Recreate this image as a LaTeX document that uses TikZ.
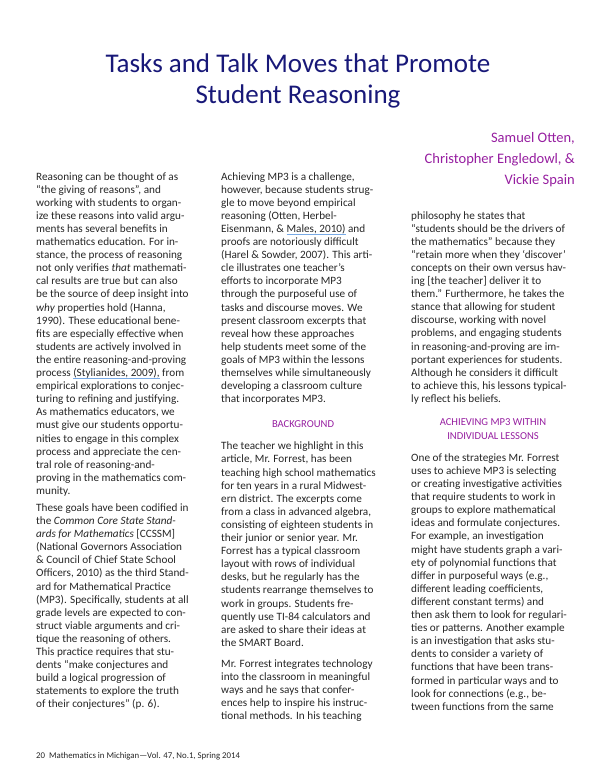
\documentclass[tikz,border=0pt]{standalone}
\usepackage{fontspec}
\setmainfont{Carlito}
\definecolor{titleblue}{RGB}{24,24,120}
\definecolor{headpurple}{RGB}{150,30,160}
\definecolor{linkblue}{RGB}{120,170,230}
\newlength\reflen
\newcommand\refu[1]{\settowidth\reflen{#1}\rlap{\textcolor{linkblue}{\rule[-2.4pt]{\reflen}{0.5pt}}}#1}
\tikzset{
  body/.style={anchor=base west,inner sep=0pt,font=\fontsize{11.2}{13}\selectfont,text=black!85},
  head/.style={anchor=base,inner sep=0pt,font=\fontsize{10.6}{12}\selectfont,text=headpurple},
  title/.style={anchor=base,inner sep=0pt,font=\fontsize{27}{30}\selectfont,text=titleblue},
  author/.style={anchor=base east,inner sep=0pt,font=\fontsize{14.5}{16}\selectfont,text=headpurple}
}
\def\lsk{13.1}
\begin{document}
\begin{tikzpicture}[x=1pt,y=-1pt]
\useasboundingbox (0,0) rectangle (600,776);
% title and authors
\node[title] (t1) at (298,72) {Tasks and Talk Moves that Promote};
\node[title] (t2) at (298,103) {Student Reasoning};
\node[author] (a1) at (575,142) {Samuel Otten,};
\node[author] (a2) at (575,163) {Christopher Engledowl, \&};
\node[author] (a3) at (575,184) {Vickie Spain};
% left column
\foreach \t [count=\i from 0] in {
 {Reasoning can be thought of as},{``the giving of reasons'', and},
 {working with students to organ-},{ize these reasons into valid argu-},
 {ments has several benefits in},{mathematics education. For in-},
 {stance, the process of reasoning},{not only verifies \textit{that} mathemati-},
 {cal results are true but can also},{be the source of deep insight into},
 {\textit{why} properties hold (Hanna,},{1990). These educational bene-},
 {fits are especially effective when},{students are actively involved in},
 {the entire reasoning-and-proving},{process \refu{(Stylianides, 2009),} from},
 {empirical explorations to conjec-},{turing to refining and justifying.},
 {As mathematics educators, we},{must give our students opportu-},
 {nities to engage in this complex},{process and appreciate the cen-},
 {tral role of reasoning-and-},{proving in the mathematics com-},{munity.}}
  \node[body] (l\i) at (36,{180+\i*\lsk}) {\t};
\foreach \t [count=\i from 0] in {
 {These goals have been codified in},{the \textit{Common Core State Stand-}},
 {\textit{ards for Mathematics} [CCSSM]},{(National Governors Association},
 {\& Council of Chief State School},{Officers, 2010) as the third Stand-},
 {ard for Mathematical Practice},{(MP3). Specifically, students at all},
 {grade levels are expected to con-},{struct viable arguments and cri-},
 {tique the reasoning of others.},{This practice requires that stu-},
 {dents ``make conjectures and},{build a logical progression of},
 {statements to explore the truth},{of their conjectures'' (p. 6).}}
  \node[body] (m\i) at (36,{180+25.3*\lsk+\i*\lsk}) {\t};
% middle column
\foreach \t [count=\i from 0] in {
 {Achieving MP3 is a challenge,},{however, because students strug-},
 {gle to move beyond empirical},{reasoning (Otten, Herbel-},
 {Eisenmann, \& \refu{Males, 2010)} and},{proofs are notoriously difficult},
 {(Harel \& Sowder, 2007). This arti-},{cle illustrates one teacher's},
 {efforts to incorporate MP3},{through the purposeful use of},
 {tasks and discourse moves. We},{present classroom excerpts that},
 {reveal how these approaches},{help students meet some of the},
 {goals of MP3 within the lessons},{themselves while simultaneously},
 {developing a classroom culture},{that incorporates MP3.}}
  \node[body] (c\i) at (221,{180+\i*\lsk}) {\t};
\node[head] (bg) at (303,{180+18.9*\lsk}) {BACKGROUND};
\foreach \t [count=\i from 0] in {
 {The teacher we highlight in this},{article, Mr. Forrest, has been},
 {teaching high school mathematics},{for ten years in a rural Midwest-},
 {ern district. The excerpts come},{from a class in advanced algebra,},
 {consisting of eighteen students in},{their junior or senior year. Mr.},
 {Forrest has a typical classroom},{layout with rows of individual},
 {desks, but he regularly has the},{students rearrange themselves to},
 {work in groups. Students fre-},{quently use TI-84 calculators and},
 {are asked to share their ideas at},{the SMART Board.}}
  \node[body] (d\i) at (221,{180+20.6*\lsk+\i*\lsk}) {\t};
\foreach \t [count=\i from 0] in {
 {Mr. Forrest integrates technology},{into the classroom in meaningful},
 {ways and he says that confer-},{ences help to inspire his instruc-},
 {tional methods. In his teaching}}
  \node[body] (e\i) at (221,{180+37.2*\lsk+\i*\lsk}) {\t};
% right column
\foreach \t [count=\i from 0] in {
 {philosophy he states that},{``students should be the drivers of},
 {the mathematics'' because they},{``retain more when they `discover'},
 {concepts on their own versus hav-},{ing [the teacher] deliver it to},
 {them.'' Furthermore, he takes the},{stance that allowing for student},
 {discourse, working with novel},{problems, and engaging students},
 {in reasoning-and-proving are im-},{portant experiences for students.},
 {Although he considers it difficult},{to achieve this, his lessons typical-},
 {ly reflect his beliefs.}}
  \node[body] (r\i) at (411,{219+\i*\lsk}) {\t};
\node[head] (h1) at (493,{219+15.8*\lsk}) {ACHIEVING MP3 WITHIN};
\node[head] (h2) at (493,{219+16.8*\lsk}) {INDIVIDUAL LESSONS};
\foreach \t [count=\i from 0] in {
 {One of the strategies Mr. Forrest},{uses to achieve MP3 is selecting},
 {or creating investigative activities},{that require students to work in},
 {groups to explore mathematical},{ideas and formulate conjectures.},
 {For example, an investigation},{might have students graph a vari-},
 {ety of polynomial functions that},{differ in purposeful ways (e.g.,},
 {different leading coefficients,},{different constant terms) and},
 {then ask them to look for regulari-},{ties or patterns. Another example},
 {is an investigation that asks stu-},{dents to consider a variety of},
 {functions that have been trans-},{formed in particular ways and to},
 {look for connections (e.g., be-},{tween functions from the same}}
  \node[body] (s\i) at (411,{219+18.5*\lsk+\i*\lsk}) {\t};
% footer
\node[body,font=\fontsize{8.8}{10}\selectfont] (ft) at (36,758) {20\ \ Mathematics in Michigan---Vol. 47, No.1, Spring 2014};
\end{tikzpicture}
\end{document}
